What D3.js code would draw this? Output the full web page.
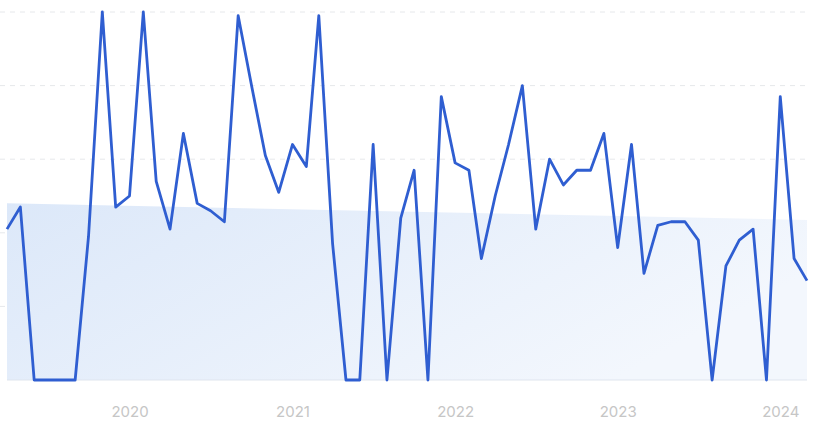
<!DOCTYPE html>
<html>
<head>
<meta charset="utf-8">
<script src="https://cdn.jsdelivr.net/npm/d3@7"></script>
<style>
  html, body { margin: 0; padding: 0; background: #fff; }
  svg { display: block; }
</style>
</head>
<body>
<svg id="chart" width="813" height="428"></svg>
<script>
const WIDTH = 813
const HEIGHT = 428
const margin = { top: 12, right: 6, bottom: 48, left: 7 }

// monthly values, Apr 2019 .. Mar 2024
const startMonth = new Date(2019, 3, 1)
const values = [
  41, 47, 0, 0, 0, 0, 39, 100, 47, 50,
  100, 54, 41, 67, 48, 46, 43, 99, 80, 61,
  51, 64, 58, 99, 37, 0, 0, 64, 0, 44,
  57, 0, 77, 59, 57, 33, 50, 64, 80, 41,
  60, 53, 57, 57, 67, 36, 64, 29, 42, 43,
  43, 38, 0, 31, 38, 41, 0, 77, 33, 27
]
// trend band (start, end)
const trendValues = [48, 43.5]
const yTicks = [0, 20, 40, 60, 80, 100]
const yearTicks = [2020, 2021, 2022, 2023, 2024]

const dates = values.map((v, i) => new Date(startMonth.getFullYear(), startMonth.getMonth() + i, 1))
const data = values.map((v, i) => ({ date: dates[i], value: v }))

const innerW = WIDTH - margin.left - margin.right
const innerH = HEIGHT - margin.top - margin.bottom

const svg = d3.select('#chart')
const g = svg.append('g').attr('transform', `translate(${margin.left},${margin.top})`)

const x = d3.scaleTime()
  .domain([dates[0], dates[dates.length - 1]])
  .range([0, innerW])
const y = d3.scaleLinear().domain([0, 100]).range([innerH, 0])

const defs = svg.append('defs')
const grad = defs.append('linearGradient')
  .attr('id', 'trendFill')
  .attr('x1', '0%').attr('y1', '0%')
  .attr('x2', '100%').attr('y2', '40%')
grad.append('stop').attr('offset', '0%').attr('stop-color', '#dce8f9')
grad.append('stop').attr('offset', '100%').attr('stop-color', '#f3f7fd')

// gridlines
g.append('g')
  .selectAll('line')
  .data(yTicks.slice(1))
  .join('line')
  .attr('x1', -margin.left)
  .attr('x2', innerW + 2)
  .attr('y1', d => y(d))
  .attr('y2', d => y(d))
  .attr('stroke', '#e6e8eb')
  .attr('stroke-width', 1)
  .attr('stroke-dasharray', '5,5')

// trend band
const trendData = [
  { date: dates[0], value: trendValues[0] },
  { date: dates[dates.length - 1], value: trendValues[1] }
]
g.append('path')
  .datum(trendData)
  .attr('fill', 'url(#trendFill)')
  .attr('d', d3.area().x(d => x(d.date)).y0(innerH).y1(d => y(d.value)))

// baseline
g.append('line')
  .attr('x1', 0).attr('x2', innerW)
  .attr('y1', innerH).attr('y2', innerH)
  .attr('stroke', '#dfe5ee')
  .attr('stroke-width', 1)

// x axis labels
const xAxis = d3.axisBottom(x)
  .tickValues(yearTicks.map(yr => new Date(yr, 0, 1)))
  .tickFormat(d3.timeFormat('%Y'))
  .tickSize(0)
  .tickPadding(26)
const ax = g.append('g')
  .attr('transform', `translate(0,${innerH})`)
  .call(xAxis)
ax.select('.domain').remove()
ax.selectAll('text')
  .attr('fill', '#c6c6c6')
  .style('font-family', 'Inter, "Noto Sans", sans-serif')
  .style('font-size', '15px')

// main line
g.append('path')
  .datum(data)
  .attr('fill', 'none')
  .attr('stroke', '#2f5ed1')
  .attr('stroke-width', 2.8)
  .attr('stroke-linejoin', 'round')
  .attr('d', d3.line().x(d => x(d.date)).y(d => y(d.value)))
</script>
</body>
</html>
